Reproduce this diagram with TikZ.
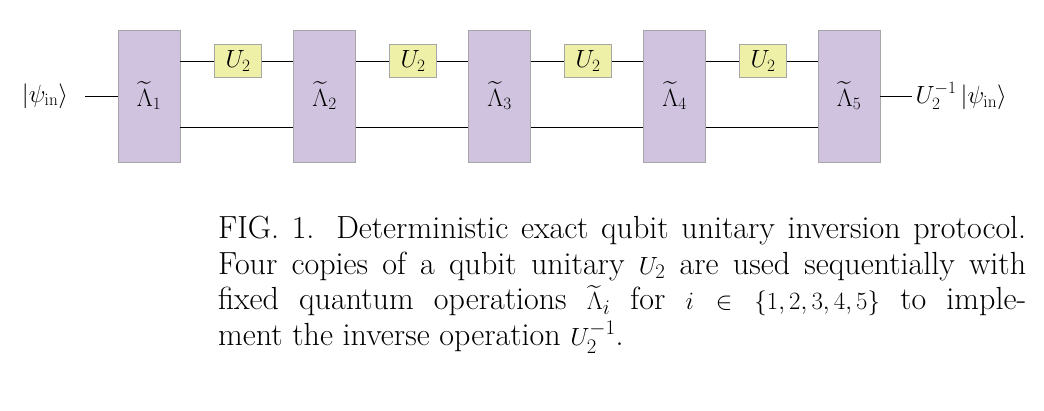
\documentclass[tikz,border=0pt]{standalone}
\usepackage{amsmath}
\begin{document}
\begin{tikzpicture}[x=1pt,y=-1pt,
  lam/.style={draw=gray!70,fill={rgb,255:red,207;green,195;blue,223},minimum width=62pt,minimum height=132pt,inner sep=0pt},
  ubox/.style={draw=gray!70,fill={rgb,255:red,238;green,240;blue,168},minimum width=47pt,minimum height=33pt,inner sep=0pt},
  lbl/.style={font=\fontsize{24}{28}\selectfont}]
\useasboundingbox (0,0) rectangle (1044,410);
\foreach \i/\x in {1/149,2/324.5,3/499.5,4/674.5,5/849}{
  \node[lam,lbl] (L\i) at (\x,96) {$\widetilde{\Lambda}_{\i}$};
}
\foreach \i/\j/\x in {1/2/238,2/3/413,3/4/588,4/5/763}{
  \node[ubox,lbl] (U\i) at (\x,61) {$U_2$};
  \draw (L\i.east |- 0,61) -- (U\i.west);
  \draw (U\i.east) -- (L\j.west |- 0,61);
  \draw (L\i.east |- 0,127) -- (L\j.west |- 0,127);
}
\node[lbl] (in) at (45,96) {$|\psi_{\mathrm{in}}\rangle$};
\coordinate (a) at (85,96);
\draw (a) -- (L1.west |- a);
\node[lbl,anchor=west] (out) at (912,96) {$U_2^{-1}\,|\psi_{\mathrm{in}}\rangle$};
\draw (L5.east |- a) -- (out.west);
\node[anchor=north west,inner sep=0pt,text width=808pt,align=justify,font=\fontsize{32}{35.5}\selectfont] (cap) at (218,216)
{FIG. 1. Deterministic exact qubit unitary inversion protocol.\linebreak
Four copies of a qubit unitary $U_2$ are used sequentially with\linebreak
fixed quantum operations $\widetilde{\Lambda}_i$ for $i\in\{1,2,3,4,5\}$ to imple-\linebreak
ment the inverse operation $U_2^{-1}$.};
\end{tikzpicture}
\end{document}
